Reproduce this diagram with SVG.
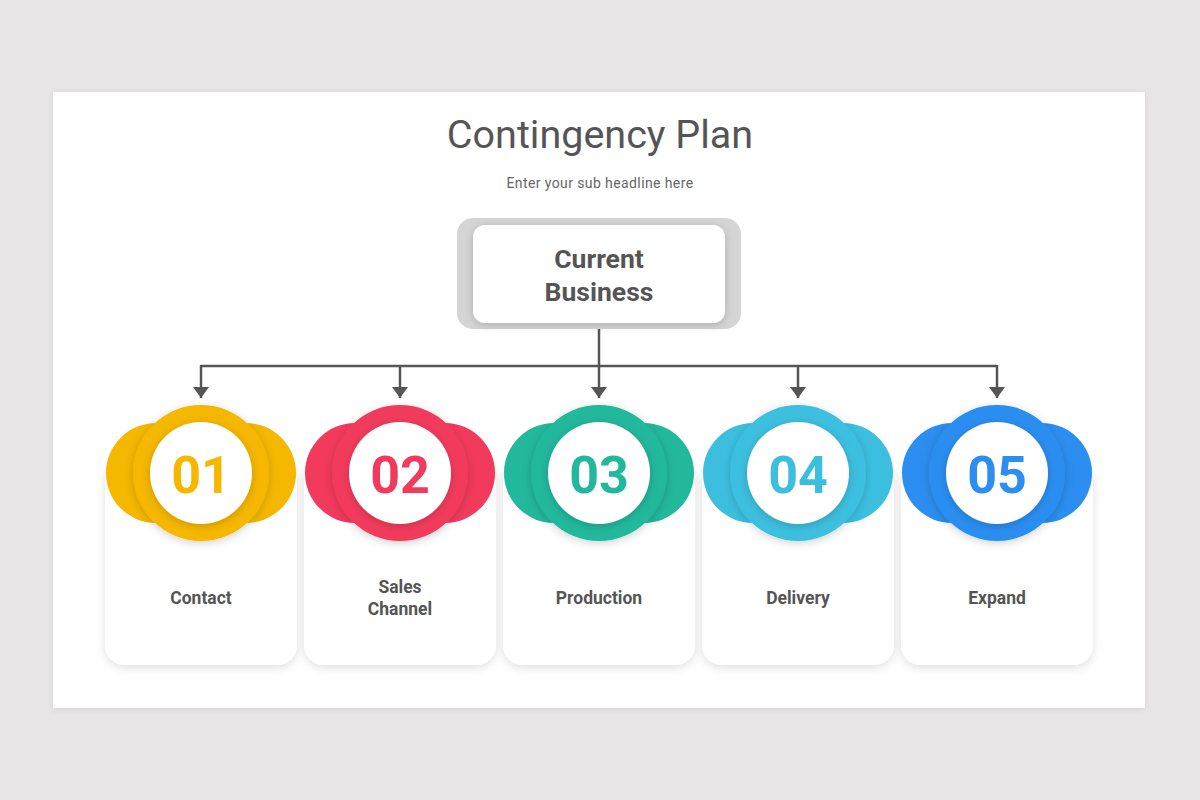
<svg xmlns="http://www.w3.org/2000/svg" width="1200" height="800" viewBox="0 0 1200 800">
  <defs>
    <filter id="sh" x="-20%" y="-20%" width="140%" height="140%">
      <feDropShadow dx="0" dy="3" stdDeviation="5" flood-color="#000" flood-opacity="0.12"/>
    </filter>
    <filter id="csh" x="-30%" y="-30%" width="160%" height="160%">
      <feDropShadow dx="0" dy="2" stdDeviation="4" flood-color="#000" flood-opacity="0.18"/>
    </filter>
    <filter id="slide" x="-5%" y="-5%" width="110%" height="110%">
      <feDropShadow dx="0" dy="1" stdDeviation="3" flood-color="#000" flood-opacity="0.10"/>
    </filter>
    <marker id="arr" viewBox="0 0 11 16" refX="11" refY="8" markerWidth="11" markerHeight="16" markerUnits="userSpaceOnUse" orient="auto">
      <path d="M0,0 L11,8 L0,16 Z" fill="#555555"/>
    </marker>
    <style>
      .card { fill: #ffffff; filter: url(#sh); }
      .lbl { font-family: Roboto, "Liberation Sans", sans-serif; font-weight: 700; font-size: 17.5px; fill: #555555; text-anchor: middle; }
      .num { font-family: Roboto, "Liberation Sans", sans-serif; font-weight: 700; font-size: 52px; text-anchor: middle; }
      .conn { stroke: #555555; stroke-width: 2.5; fill: none; }
    </style>
  </defs>

  <rect x="0" y="0" width="1200" height="800" fill="#e8e6e7"/>
  <rect x="53" y="92" width="1092" height="616" fill="#ffffff" filter="url(#slide)"/>

  <g id="title">
    <text x="600" y="148" font-family="Roboto, 'Liberation Sans', sans-serif" font-size="39.5" fill="#555555" text-anchor="middle">Contingency Plan</text>
    <text x="600" y="188" font-family="Roboto, 'Liberation Sans', sans-serif" font-size="14" letter-spacing="0.4" fill="#666666" text-anchor="middle">Enter your sub headline here</text>
  </g>

  <g id="connectors">
    <line class="conn" x1="599" y1="329" x2="599" y2="398" marker-end="url(#arr)"/>
    <line class="conn" x1="201" y1="366" x2="997" y2="366"/>
    <line class="conn" x1="201" y1="365" x2="201" y2="398" marker-end="url(#arr)"/>
    <line class="conn" x1="400" y1="366" x2="400" y2="398" marker-end="url(#arr)"/>
    <line class="conn" x1="798" y1="366" x2="798" y2="398" marker-end="url(#arr)"/>
    <line class="conn" x1="997" y1="365" x2="997" y2="398" marker-end="url(#arr)"/>
  </g>

  <g id="current-business">
    <rect x="457" y="218" width="284" height="111" rx="16" fill="#d5d5d5"/>
    <rect x="473" y="225" width="252" height="98" rx="12" fill="#ffffff" filter="url(#csh)"/>
    <text x="599" y="268" font-family="Roboto, 'Liberation Sans', sans-serif" font-weight="700" font-size="26.5" fill="#555555" text-anchor="middle">Current</text>
    <text x="599" y="301" font-family="Roboto, 'Liberation Sans', sans-serif" font-weight="700" font-size="26.5" fill="#555555" text-anchor="middle">Business</text>
  </g>

  <g id="node-01">
    <rect class="card" x="105" y="460" width="192" height="205" rx="20"/>
    <circle cx="156" cy="473" r="50" fill="#f5b700"/>
    <circle cx="246" cy="473" r="50" fill="#f5b700"/>
    <circle cx="201" cy="473" r="68" fill="#f5b700" filter="url(#csh)"/>
    <circle cx="201" cy="473" r="51" fill="#ffffff" filter="url(#csh)"/>
    <text class="num" x="201" y="493" fill="#f5b700">01</text>
    <text class="lbl" x="201" y="604">Contact</text>
  </g>

  <g id="node-02">
    <rect class="card" x="304" y="460" width="192" height="205" rx="20"/>
    <circle cx="355" cy="473" r="50" fill="#f23a5c"/>
    <circle cx="445" cy="473" r="50" fill="#f23a5c"/>
    <circle cx="400" cy="473" r="68" fill="#f23a5c" filter="url(#csh)"/>
    <circle cx="400" cy="473" r="51" fill="#ffffff" filter="url(#csh)"/>
    <text class="num" x="400" y="493" fill="#f23a5c">02</text>
    <text class="lbl" x="400" y="593">Sales</text>
    <text class="lbl" x="400" y="615">Channel</text>
  </g>

  <g id="node-03">
    <rect class="card" x="503" y="460" width="192" height="205" rx="20"/>
    <circle cx="554" cy="473" r="50" fill="#22b89c"/>
    <circle cx="644" cy="473" r="50" fill="#22b89c"/>
    <circle cx="599" cy="473" r="68" fill="#22b89c" filter="url(#csh)"/>
    <circle cx="599" cy="473" r="51" fill="#ffffff" filter="url(#csh)"/>
    <text class="num" x="599" y="493" fill="#22b89c">03</text>
    <text class="lbl" x="599" y="604">Production</text>
  </g>

  <g id="node-04">
    <rect class="card" x="702" y="460" width="192" height="205" rx="20"/>
    <circle cx="753" cy="473" r="50" fill="#3cbfdf"/>
    <circle cx="843" cy="473" r="50" fill="#3cbfdf"/>
    <circle cx="798" cy="473" r="68" fill="#3cbfdf" filter="url(#csh)"/>
    <circle cx="798" cy="473" r="51" fill="#ffffff" filter="url(#csh)"/>
    <text class="num" x="798" y="493" fill="#3cbfdf">04</text>
    <text class="lbl" x="798" y="604">Delivery</text>
  </g>

  <g id="node-05">
    <rect class="card" x="901" y="460" width="192" height="205" rx="20"/>
    <circle cx="952" cy="473" r="50" fill="#2b8ef0"/>
    <circle cx="1042" cy="473" r="50" fill="#2b8ef0"/>
    <circle cx="997" cy="473" r="68" fill="#2b8ef0" filter="url(#csh)"/>
    <circle cx="997" cy="473" r="51" fill="#ffffff" filter="url(#csh)"/>
    <text class="num" x="997" y="493" fill="#2b8ef0">05</text>
    <text class="lbl" x="997" y="604">Expand</text>
  </g>
</svg>
